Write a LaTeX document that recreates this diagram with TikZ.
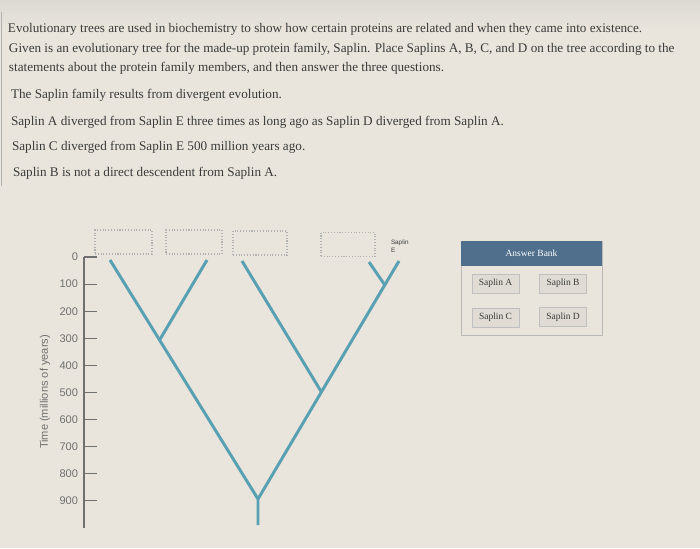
\documentclass[tikz,border=0pt]{standalone}
\usepackage{fontspec}
\setmainfont{Liberation Serif}
\setsansfont{Liberation Sans}
\definecolor{PaperBg}{RGB}{233,229,221}
\definecolor{PaperTop}{RGB}{220,217,212}
\definecolor{InkGray}{RGB}{58,58,58}
\definecolor{TreeBlue}{RGB}{88,160,178}
\definecolor{AxisGray}{RGB}{112,112,112}
\definecolor{BankBlue}{RGB}{79,111,140}
\definecolor{ButtonFill}{RGB}{224,220,213}
\newcommand\TimeAxis[3]{%
    \draw[AxisGray,line width=0.6pt] (#1,#2) coordinate(AxisTop) -- (#1,#3) coordinate(AxisEnd);
    \foreach \k in {0,...,9} {
        \draw[AxisGray,line width=0.6pt] (#1,#2+27.1*\k) -- +(13,0);
        \pgfmathtruncatemacro\years{100*\k}
        \node[ticklabel] (Tick\k) at (#1-6,#2+27.1*\k) {\years};
    }
}

\begin{document}
\begin{tikzpicture}[x=0.02cm,y=-0.02cm,
    every node/.style={inner sep=0pt,outer sep=0pt},
    statement/.style={anchor=base west,text=InkGray,font=\fontsize{7.5}{9}\selectfont},
    ticklabel/.style={anchor=east,text=AxisGray,font=\sffamily\fontsize{6.3}{7}\selectfont},
    branch/.style={draw=TreeBlue,line width=1.7pt,line join=round},
    slot/.style={draw=gray!60,densely dotted,line width=0.6pt,minimum height=0.48cm},
    bankbutton/.style={draw=gray!50,fill=ButtonFill,minimum width=0.94cm,minimum height=0.38cm,
        text=InkGray,font=\fontsize{5.4}{6}\selectfont}]
    \useasboundingbox (0,0) rectangle (700,548);
    \fill[PaperBg] (0,0) rectangle (700,548);
    \shade[top color=PaperTop,bottom color=PaperBg] (0,0) rectangle (700,30);
    \draw[gray!60,line width=0.8pt] (1.5,12) -- (1.5,186);

    \node[statement] (LineOne) at (8,32) {Evolutionary trees are used in biochemistry to show how certain proteins are related and when they came into existence.};
    \node[statement] (LineTwo) at (9,52) {Given is an evolutionary tree for the made-up protein family, Saplin. Place Saplins A, B, C, and D on the tree according to the};
    \node[statement] (LineThree) at (9,71) {statements about the protein family members, and then answer the three questions.};
    \node[statement] (FactOne) at (11,98) {The Saplin family results from divergent evolution.};
    \node[statement] (FactTwo) at (11,125) {Saplin A diverged from Saplin E three times as long ago as Saplin D diverged from Saplin A.};
    \node[statement] (FactThree) at (12,150) {Saplin C diverged from Saplin E 500 million years ago.};
    \node[statement] (FactFour) at (13,176) {Saplin B is not a direct descendent from Saplin A.};

    \TimeAxis{84}{257}{528}
    \node[rotate=90,text=AxisGray,font=\sffamily\fontsize{6.3}{7}\selectfont] (TimeTitle) at (45,392) {Time (millions of years)};

    \node[slot,minimum width=1.14cm] (SlotOne) at (123.5,242) {};
    \node[slot,minimum width=1.12cm] (SlotTwo) at (194,242) {};
    \node[slot,minimum width=1.08cm] (SlotThree) at (260,243) {};
    \node[slot,minimum width=1.08cm] (SlotFour) at (348,244.5) {};
    \node[anchor=north west,align=left,text=InkGray,font=\sffamily\fontsize{3.6}{4.5}\selectfont] (SaplinE) at (391,240) {Saplin\\E};

    \coordinate (StemEnd) at (258,525);
    \coordinate (Root) at (258,499);
    \coordinate (TipOne) at (110,260);
    \coordinate (SplitLeft) at (159.6,340);
    \coordinate (TipTwo) at (207,260);
    \coordinate (TipThree) at (242,261);
    \coordinate (SplitMid) at (321.4,392);
    \coordinate (TipFour) at (369,262);
    \coordinate (SplitRight) at (384.8,285);
    \coordinate (TipE) at (399,261);
    \draw[branch] (StemEnd) -- (Root) -- (TipOne);
    \draw[branch] (Root) -- (TipE);
    \draw[branch] (SplitLeft) -- (TipTwo);
    \draw[branch] (SplitMid) -- (TipThree);
    \draw[branch] (SplitRight) -- (TipFour);

    \node[draw=gray!55,line width=0.5pt,minimum width=2.82cm,minimum height=1.88cm] (Bank) at (531.5,288) {};
    \node[anchor=north,fill=BankBlue,minimum width=2.82cm,minimum height=0.5cm,text=white,
        font=\fontsize{5.4}{6}\selectfont] (BankHead) at (Bank.north) {Answer Bank};
    \node[bankbutton] (PickA) at (495.5,283.5) {Saplin A};
    \node[bankbutton] (PickB) at (563,283.5) {Saplin B};
    \node[bankbutton] (PickC) at (495.5,317.5) {Saplin C};
    \node[bankbutton] (PickD) at (563,317) {Saplin D};
\end{tikzpicture}
\end{document}
